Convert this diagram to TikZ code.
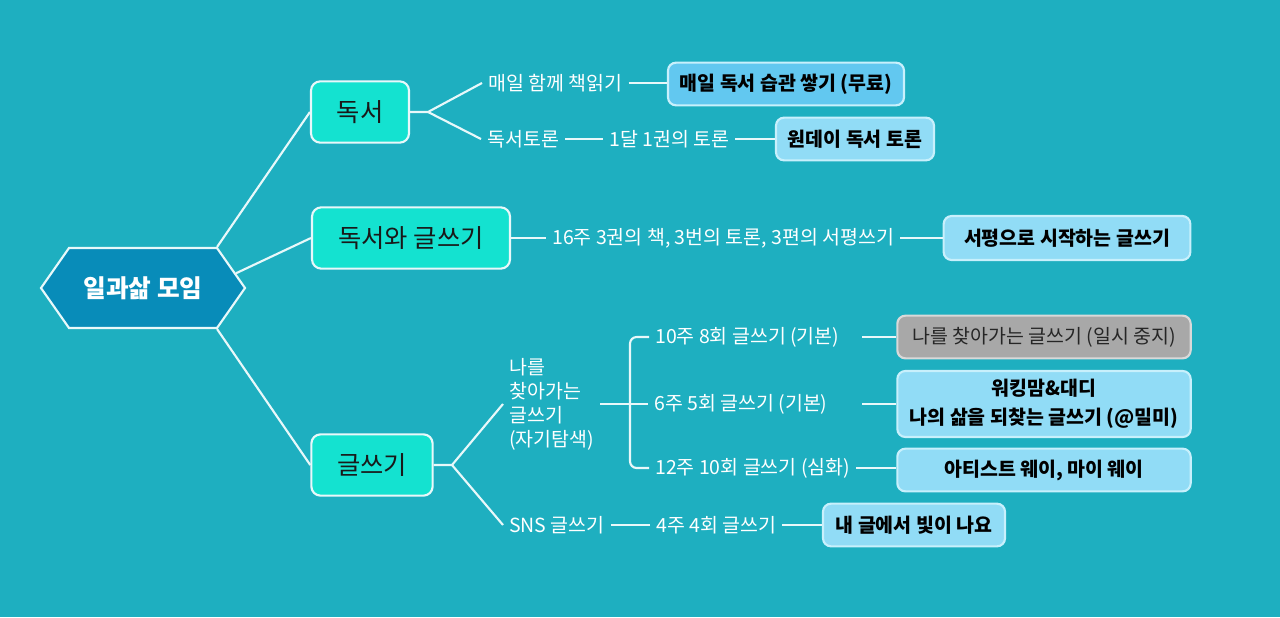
\documentclass[tikz,border=0pt]{standalone}
\usepackage{fontspec}
\setmainfont{Noto Sans CJK KR}
\usetikzlibrary{shapes.symbols}

\definecolor{bgteal}{RGB}{30,175,192}
\definecolor{rootblue}{RGB}{8,140,185}
\definecolor{aqua}{RGB}{20,226,208}
\definecolor{skyA}{RGB}{98,200,240}
\definecolor{skyB}{RGB}{145,220,246}
\definecolor{skyline}{RGB}{200,240,252}
\definecolor{greybox}{RGB}{168,168,168}
\definecolor{linewhite}{RGB}{232,248,250}

\begin{document}
\begin{tikzpicture}[x=0.75pt, y=-0.75pt,
	link/.style={draw=linewhite, line width=1.6pt},
	topic/.style={draw=linewhite, line width=1.6pt, fill=aqua, rounded corners=7pt, text=black!90, font=\fontsize{19}{22}\selectfont, minimum height=46pt, inner sep=0pt},
	leaf/.style={text=white, font=\fontsize{14.6}{18}\selectfont, inner xsep=4.5pt, inner ysep=2pt, anchor=west},
	course/.style={draw=skyline, line width=1.6pt, fill=skyB, rounded corners=6pt, text=black, font=\bfseries\fontsize{14.6}{22}\selectfont, minimum height=32pt, inner sep=0pt, align=center}]
	\fill[bgteal] (0,0) rectangle (1280,617);
	\useasboundingbox (0,0) rectangle (1280,617);
	% root and the three topics
	\node[signal, signal to=west and east, signal pointer angle=110, draw=linewhite, line width=1.6pt, fill=rootblue, text=white, font=\bfseries\fontsize{18.5}{22}\selectfont, minimum width=153pt, minimum height=60pt, inner sep=0pt] (root) at (143,288) {일과삶 모임};
	\node[topic, minimum width=73.5pt] (dokseo) at (360,112) {독서};
	\node[topic, minimum width=148.5pt] (both) at (411,238) {독서와 글쓰기};
	\node[topic, minimum width=91pt] (writing) at (372,465) {글쓰기};
	\draw[link] (root.29) -- (dokseo.west);
	\draw[link] (root.9) -- (both.west);
	\draw[link] (root.-29) -- (writing.west);
	% 독서
	\coordinate (jdok) at (428,112);
	\node[leaf] (daily) at (482,83) {매일 함께 책읽기};
	\node[leaf] (debate) at (481,139) {독서토론};
	\node[leaf] (monthly) at (603,139) {1달 1권의 토론};
	\node[course, fill=skyA, minimum width=177pt] (dailybox) at (786,84) {매일 독서 습관 쌓기 (무료)};
	\node[course, minimum width=118.5pt] (onedaybox) at (855,139) {원데이 독서 토론};
	\draw[link] (dokseo.east) -- (jdok) -- (daily.west);
	\draw[link] (jdok) -- (debate.west);
	\draw[link] (daily.east) -- (daily.east -| dailybox.west);
	\draw[link] (debate.east) -- (monthly.west);
	\draw[link] (monthly.east) -- (onedaybox.west);
	% 독서와 글쓰기
	\node[leaf] (review) at (546,238) {16주 3권의 책, 3번의 토론, 3편의 서평쓰기};
	\node[course, minimum width=185pt, minimum height=33pt] (reviewbox) at (1067,238) {서평으로 시작하는 글쓰기};
	\draw[link] (both.east) -- (review.west);
	\draw[link] (review.east) -- (reviewbox.west);
	% 글쓰기
	\coordinate (jwri) at (452,465);
	\node[leaf, align=left] (seekme) at (503,404) {나를\\찾아가는\\글쓰기\\(자기탐색)};
	\node[leaf] (sns) at (503,525) {SNS 글쓰기};
	\draw[link] (writing.east) -- (jwri) -- (seekme.west);
	\draw[link] (jwri) -- (sns.west);
	\coordinate (fork) at (630,404);
	\node[leaf] (ten) at (649,337) {10주 8회 글쓰기 (기본)};
	\node[leaf] (six) at (648,404) {6주 5회 글쓰기 (기본)};
	\node[leaf] (twelve) at (649,468) {12주 10회 글쓰기 (심화)};
	\draw[link] (seekme.east) -- (six.west);
	\draw[link, rounded corners=5pt] (ten.west) -| (fork) |- (twelve.west);
	\node[course, fill=greybox, draw=black!15, font=\fontsize{14.6}{22}\selectfont, text=black!85, minimum width=220pt] (pausebox) at (1044,337) {나를 찾아가는 글쓰기 (일시 중지)};
	\node[course, minimum width=220pt, minimum height=49.5pt] (workbox) at (1044,404) {워킹맘\&대디\\나의 삶을 되찾는 글쓰기 (@밀미)};
	\node[course, minimum width=220pt] (artistbox) at (1044,470) {아티스트 웨이, 마이 웨이};
	\draw[link] (862,337) -- (ten.east -| pausebox.west);
	\draw[link] (862,404) -- (six.east -| workbox.west);
	\draw[link] (twelve.east) -- (twelve.east -| artistbox.west);
	\node[leaf] (fourweeks) at (650,525) {4주 4회 글쓰기};
	\node[course, minimum width=136.5pt] (snsbox) at (914,525) {내 글에서 빛이 나요};
	\draw[link] (sns.east) -- (fourweeks.west);
	\draw[link] (fourweeks.east) -- (snsbox.west);
\end{tikzpicture}
\end{document}
